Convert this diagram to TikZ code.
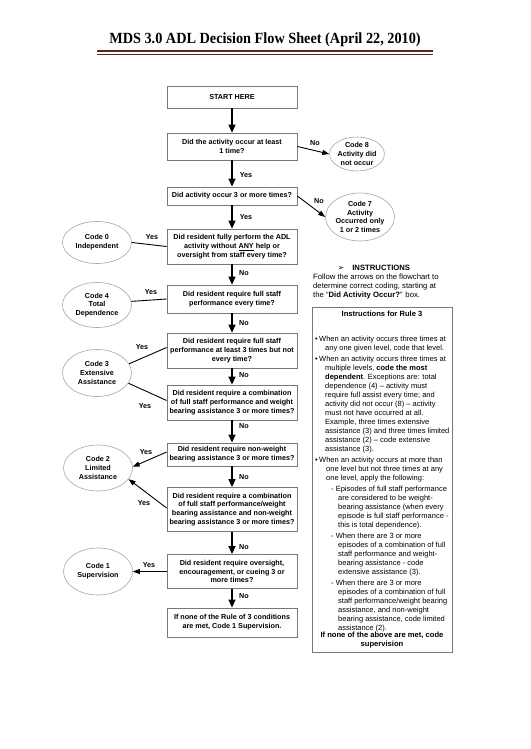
\documentclass[tikz,border=0pt]{standalone}
\usepackage{fontspec}
\setmainfont{Liberation Sans}
\newfontfamily\titlefont{Liberation Serif}
\newfontfamily\djv{DejaVu Sans}
\usetikzlibrary{arrows.meta,shapes.geometric,calc}
\definecolor{titlered}{RGB}{98,36,35}
\definecolor{boxgray}{RGB}{120,120,120}
\definecolor{ellgray}{RGB}{165,165,165}
\newcommand{\mybul}{\makebox[4pt][l]{\textbullet}}
\begin{document}
\begin{tikzpicture}[x=1pt,y=-1pt,
  qbox/.style={draw=boxgray, line width=0.8pt, minimum width=130pt, align=center,
    font=\bfseries\fontsize{7.2}{8.8}\selectfont, inner sep=1pt},
  code/.style={draw=ellgray, line width=0.6pt, ellipse, minimum width=69pt, minimum height=45pt,
    align=center, font=\bfseries\fontsize{7.2}{8.8}\selectfont, inner sep=0pt},
  vflow/.style={line width=1.4pt, -{Triangle[length=8pt,width=7pt]}},
  sflow/.style={line width=0.9pt, -{Triangle[length=7pt,width=5pt]}},
  bareline/.style={line width=0.9pt},
  lab/.style={font=\bfseries\fontsize{7.2}{8.8}\selectfont, inner sep=0pt},
  rtext/.style={font=\fontsize{7.5}{9}\selectfont, inner sep=0pt, align=left},
]
\fill[white] (0,0) rectangle (530,749);
\useasboundingbox (0,0) rectangle (530,749);

% title
\node[inner sep=0pt, xscale=0.92] (title) at (265,40) {\titlefont\bfseries\fontsize{15.5}{16}\selectfont MDS 3.0 ADL Decision Flow Sheet (April 22, 2010)};
\draw[titlered, line width=2.5pt] (97,51) -- (433,51);
\draw[titlered, line width=0.7pt] (97,54.5) -- (433,54.5);

% question boxes
\node[qbox, minimum height=22pt] (b1) at (232,97) {START HERE};
\node[qbox, minimum height=27pt] (b2) at (232,146.5) {Did the activity occur at least\\1 time?};
\node[qbox, minimum height=18pt] (b3) at (232,196) {Did activity occur 3 or more times?};
\node[qbox, minimum height=35pt] (b4) at (232,246.5) {Did resident fully perform the ADL\\activity without \underline{ANY} help or\\oversight from staff every time?};
\node[qbox, minimum height=28pt] (b5) at (232,299) {Did resident require full staff\\performance every time?};
\node[qbox, minimum height=35pt] (b6) at (232,350.5) {Did resident require full staff\\performance at least 3 times but not\\every time?};
\node[qbox, minimum height=35pt] (b7) at (232,402.5) {Did resident require a combination\\of full staff performance and weight\\bearing assistance 3 or more times?};
\node[qbox, minimum height=23pt] (b8) at (232,454.5) {Did resident require non-weight\\bearing assistance 3 or more times?};
\node[qbox, minimum height=44pt] (b9) at (232,509.5) {Did resident require a combination\\of full staff performance/weight\\bearing assistance and non-weight\\bearing assistance 3 or more times?};
\node[qbox, minimum height=34pt] (b10) at (232,571.5) {Did resident require oversight,\\encouragement, or cueing 3 or\\more times?};
\node[qbox, minimum height=29pt] (b11) at (232,622.5) {If none of the Rule of 3 conditions\\are met, Code 1 Supervision.};

% code ellipses
\node[code, minimum width=54pt, minimum height=34pt] (c8) at (357,154) {Code 8\\Activity did\\not occur};
\node[code, minimum width=58pt, minimum height=48pt] (c7) at (360,217) {Code 7\\Activity\\Occurred only\\1 or 2 times};
\node[code, minimum height=42pt] (c0) at (97,242.5) {Code 0\\Independent};
\node[code] (c4) at (97,305) {Code 4\\Total\\Dependence};
\node[code, minimum height=47pt] (c3) at (97,373) {Code 3\\Extensive\\Assistance};
\node[code, minimum height=46pt] (c2) at (98,468) {Code 2\\Limited\\Assistance};
\node[code, minimum height=47pt] (c1) at (98,571.5) {Code 1\\Supervision};

% vertical flow
\draw[vflow] (b1) -- (b2);
\draw[vflow] (b2) -- (b3);
\draw[vflow] (b3) -- (b4);
\draw[vflow] (b4) -- (b5);
\draw[vflow] (b5) -- (b6);
\draw[vflow] (b6) -- (b7);
\draw[vflow] (b7) -- (b8);
\draw[vflow] (b8) -- (b9);
\draw[vflow] (b9) -- (b10);
\draw[vflow] (b10) -- (b11);

\node[lab] (y1) at (246,175) {Yes};
\node[lab] (y2) at (246,217) {Yes};
\node[lab] (n1) at (244,273) {No};
\node[lab] (n2) at (244,323) {No};
\node[lab] (n3) at (244,375) {No};
\node[lab] (n4) at (244,426) {No};
\node[lab] (n5) at (244,477) {No};
\node[lab] (n6) at (244,547) {No};
\node[lab] (n7) at (244,596) {No};

% right connectors
\draw[sflow] (b2.east) -- (c8.west);
\node[lab] (n8) at (315,143) {No};
\draw[sflow] (b3.east) -- (c7.west);
\node[lab] (n9) at (319,201) {No};

% left connectors
\draw[bareline] (b4.west) -- (c0.east);
\node[lab] (y3) at (152,237) {Yes};
\draw[bareline] (b5.west) -- (c4.6);
\node[lab] (y4) at (151,292) {Yes};
\draw[bareline] ([yshift=3pt]b6.west) -- (c3.16);
\node[lab] (y5) at (142,347) {Yes};
\draw[bareline] ([yshift=2pt]b7.west) -- (c3.-18);
\node[lab] (y6) at (145,406) {Yes};
\draw[sflow] ([yshift=2.5pt]b8.west) -- (c2.2);
\node[lab] (y7) at (146,452) {Yes};
\draw[sflow] ([yshift=1.5pt]b9.west) -- (c2.-20);
\node[lab] (y8) at (144,503) {Yes};
\draw[sflow] (b10.west) -- (c1.east);
\node[lab] (y9) at (149,565) {Yes};

% instructions
\node[inner sep=0pt, font=\fontsize{7.7}{9}\selectfont] (ihead) at (374,268) {{\djv ➢}\hspace{8pt}\textbf{INSTRUCTIONS}};
\node[rtext, font=\fontsize{7.7}{9}\selectfont, anchor=north west] (itext) at (313,273.5) {Follow the arrows on the flowchart to\\determine correct coding, starting at\\the “\textbf{Did Activity Occur?}” box.};

\node[draw=boxgray, line width=0.6pt, minimum width=140pt, minimum height=345pt, anchor=north west, inner sep=0pt] (rbox) at (312,307) {};
\node[inner sep=0pt, font=\bfseries\fontsize{7.6}{9}\selectfont] (rtitle) at (382,314) {Instructions for Rule 3};
\node[rtext, anchor=north west] (rt) at (315,335.5) {%
\mybul When an activity occurs three times at\\
\hspace*{10pt}any one given level, code that level.\\[2pt]
\mybul When an activity occurs three times at\\
\hspace*{10pt}multiple levels, \textbf{code the most}\\
\hspace*{10pt}\textbf{dependent}. Exceptions are: total\\
\hspace*{10pt}dependence (4) – activity must\\
\hspace*{10pt}require full assist every time; and\\
\hspace*{10pt}activity did not occur (8) – activity\\
\hspace*{10pt}must not have occurred at all.\\
\hspace*{10pt}Example, three times extensive\\
\hspace*{10pt}assistance (3) and three times limited\\
\hspace*{10pt}assistance (2) – code extensive\\
\hspace*{10pt}assistance (3).\\[2pt]
\mybul When an activity occurs at more than\\
\hspace*{11pt}one level but not three times at any\\
\hspace*{11pt}one level, apply the following:\\[2pt]
\hspace*{16pt}- Episodes of full staff performance\\
\hspace*{23pt}are considered to be weight-\\
\hspace*{23pt}bearing assistance (when every\\
\hspace*{23pt}episode is full staff performance -\\
\hspace*{23pt}this is total dependence).\\[2pt]
\hspace*{16pt}- When there are 3 or more\\
\hspace*{23pt}episodes of a combination of full\\
\hspace*{23pt}staff performance and weight-\\
\hspace*{23pt}bearing assistance - code\\
\hspace*{23pt}extensive assistance (3).\\[2pt]
\hspace*{16pt}- When there are 3 or more\\
\hspace*{23pt}episodes of a combination of full\\
\hspace*{23pt}staff performance/weight bearing\\
\hspace*{23pt}assistance, and non-weight\\
\hspace*{23pt}bearing assistance, code limited\\
\hspace*{23pt}assistance (2).};
\node[inner sep=0pt, align=center, font=\bfseries\fontsize{7.6}{9}\selectfont] (rend) at (382,640) {If none of the above are met, code\\supervision};
\end{tikzpicture}
\end{document}
